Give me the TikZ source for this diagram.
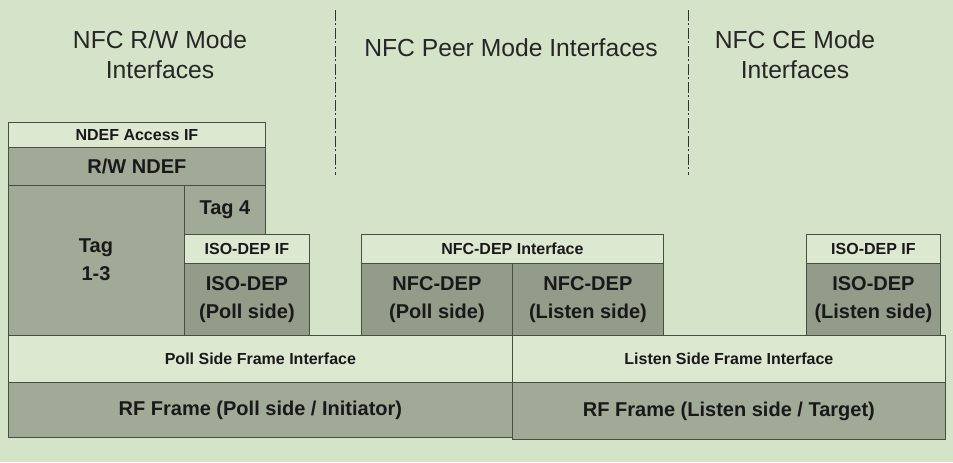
\documentclass[tikz,border=0pt]{standalone}
\usepackage{fontspec}
\setmainfont{Liberation Sans}
\begin{document}
\definecolor{bg}{RGB}{213,227,200}
\definecolor{lite}{RGB}{220,232,208}
\definecolor{mid}{RGB}{160,170,150}
\definecolor{dark}{RGB}{146,156,136}
\definecolor{edge}{RGB}{70,80,65}
\begin{tikzpicture}[x=0.75pt,y=-0.75pt,
  box/.style={draw=edge,line width=0.6pt},
  sm/.style={box,fill=lite},
  bg2/.style={box,fill=mid},
  dk/.style={box,fill=dark},
  st/.style={font=\bfseries\fontsize{12}{14}\selectfont,text=black!90},
  bt/.style={font=\bfseries\fontsize{15}{21}\selectfont,align=center,text=black!90},
  ttl/.style={align=center,font=\fontsize{18.5}{22.5}\selectfont,text=black!85},
  sep/.style={draw=black!80,line width=0.6pt,dash pattern=on 8pt off 2pt on 1.5pt off 2pt}]
\fill[bg] (0,0) rectangle (953,462);
\useasboundingbox (0,0) rectangle (953,462);
\newcommand{\bx}[6]{\node[#1,minimum width={(#4-#2)*0.75pt},minimum height={(#5-#3)*0.75pt},inner sep=0pt,anchor=north west] (#6) at (#2,#3) {};}
\bx{sm}{8}{122}{265}{147}{ndefif}\node[st] at (ndefif) {NDEF Access IF};
\bx{bg2}{8}{147}{265}{185}{rwndef}\node[bt] at (rwndef) {R/W NDEF};
\bx{bg2}{8}{185}{184}{335}{tag13}\node[bt,anchor=north] at (96,234) {Tag\\1-3};
\bx{bg2}{184}{185}{265}{234}{tag4}\node[bt] at (tag4) {Tag 4};
\bx{sm}{184}{234}{309}{263}{isoifl}\node[st] at (isoifl) {ISO-DEP IF};
\bx{dk}{184}{263}{309}{335}{isopoll}\node[bt] at (isopoll) {ISO-DEP\\(Poll side)};
\bx{sm}{361}{234}{663}{263}{nfcif}\node[st] at (nfcif) {NFC-DEP Interface};
\bx{dk}{361}{263}{512}{335}{nfcpoll}\node[bt] at (nfcpoll) {NFC-DEP\\(Poll side)};
\bx{dk}{512}{263}{663}{335}{nfclis}\node[bt] at (nfclis) {NFC-DEP\\(Listen side)};
\bx{sm}{806}{234}{940}{263}{isoifr}\node[st] at (isoifr) {ISO-DEP IF};
\bx{dk}{806}{263}{940}{335}{isolis}\node[bt] at (isolis) {ISO-DEP\\(Listen side)};
\bx{sm}{8}{335}{512}{382}{pollfi}\node[st] at (pollfi) {Poll Side Frame Interface};
\bx{sm}{512}{335}{945}{382}{lisfi}\node[st] at (lisfi) {Listen Side Frame Interface};
\bx{bg2}{8}{382}{512}{437}{rfpoll}\node[bt] at (rfpoll) {RF Frame (Poll side / Initiator)};
\bx{bg2}{512}{382}{945}{439}{rflis}\node[bt] at (rflis) {RF Frame (Listen side / Target)};
\node[ttl] (t1) at (160,55) {NFC R/W Mode\\Interfaces};
\node[ttl] (t2) at (511,48) {NFC Peer Mode Interfaces};
\node[ttl] (t3) at (795,55) {NFC CE Mode\\Interfaces};
\coordinate (s1a) at (335,10); \coordinate (s1b) at (335,175);
\coordinate (s2a) at (688,10); \coordinate (s2b) at (688,175);
\draw[sep] (s1a) -- (s1b);
\draw[sep] (s2a) -- (s2b);
\end{tikzpicture}
\end{document}
